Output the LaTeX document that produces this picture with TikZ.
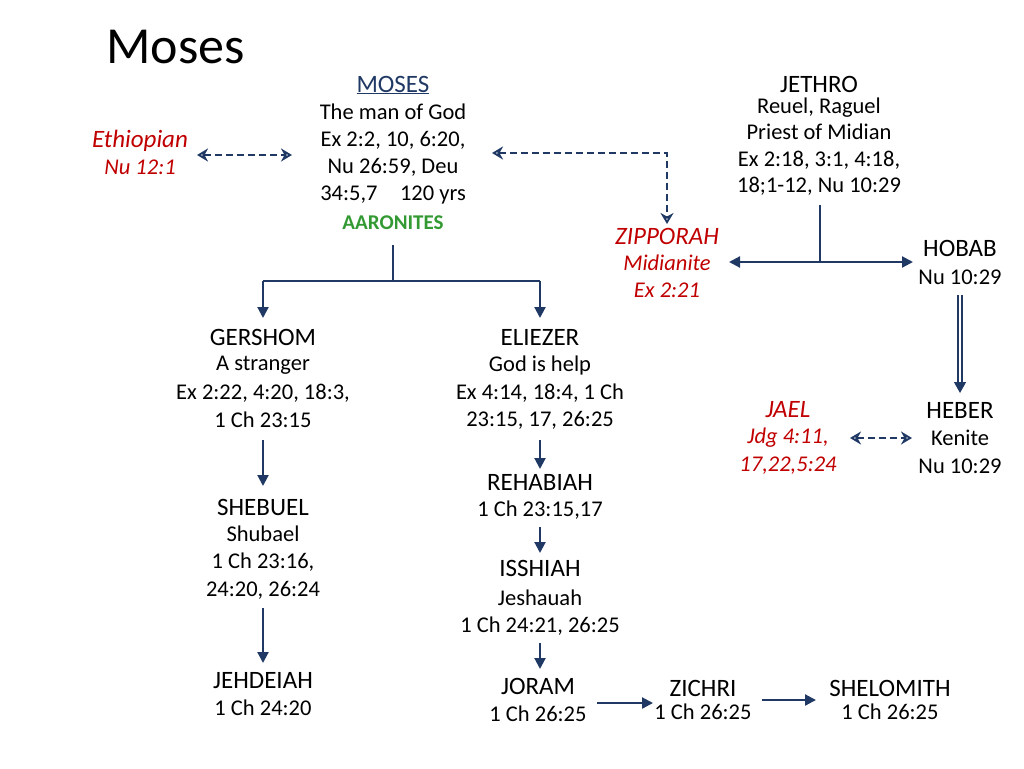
\documentclass[tikz,border=0pt]{standalone}
\usepackage{fontspec}
\setmainfont{Carlito}
\usetikzlibrary{arrows.meta}
\definecolor{navy}{HTML}{1F3864}
\definecolor{redc}{HTML}{C00000}
\definecolor{greenc}{HTML}{339933}
\begin{document}
\begin{tikzpicture}[x=1pt,y=-1pt,
  big/.style={font=\fontsize{25}{27}\selectfont,inner sep=0pt},
  sm/.style={font=\fontsize{22.5}{24}\selectfont,inner sep=0pt},
  rd/.style={text=redc},
  bigi/.style={big,rd,font=\itshape\fontsize{25}{27}\selectfont},
  smi/.style={sm,rd,font=\itshape\fontsize{22.5}{24}\selectfont},
  arr/.style={draw=navy,line width=2.2pt,-{Triangle[length=11pt,width=11pt]}},
  ln/.style={draw=navy,line width=2.2pt},
  dsh/.style={draw=navy,line width=2.4pt,dash pattern=on 7pt off 4pt,{Stealth[length=11pt,width=13pt,open,line width=2.4pt]}-{Stealth[length=11pt,width=13pt,open,line width=2.4pt]}}]
\useasboundingbox (0,0) rectangle (1024,768);
\node[anchor=west,inner sep=0pt,font=\fontsize{52}{54}\selectfont] (title) at (106,47) {Moses};
% Moses
\node[big,text=navy] (moses) at (393,85) {\underline{MOSES}};
\node[sm] (m1) at (393,112) {The man of God};
\node[sm] (m2) at (393,140) {Ex 2:2, 10, 6:20,};
\node[sm] (m3) at (393,167) {Nu 26:59, Deu};
\node[sm] (m4) at (393,195) {34:5,7\quad 120 yrs};
\node[sm,text=greenc,font=\bfseries\fontsize{21}{23}\selectfont] (m5) at (393,223) {AARONITES};
% Ethiopian
\node[bigi] (eth) at (140,141) {Ethiopian};
\node[smi] (eth1) at (140,167) {Nu 12:1};
\coordinate (e1) at (197,155); \coordinate (e2) at (292,155);
\draw[dsh] (e1) -- (e2);
% Jethro
\node[big] (jethro) at (819,84) {JETHRO};
\node[sm] (j1) at (819,108) {Reuel, Raguel};
\node[sm] (j2) at (819,132) {Priest of Midian};
\node[sm] (j3) at (819,160) {Ex 2:18, 3:1, 4:18,};
\node[sm] (j4) at (819,186) {18;1-12, Nu 10:29};
% Zipporah
\node[bigi] (zip) at (667,236) {ZIPPORAH};
\node[smi] (z1) at (667,263) {Midianite};
\node[smi] (z2) at (667,290) {Ex 2:21};
\coordinate (z0a) at (492,153); \coordinate (z0b) at (667,153); \coordinate (z0c) at (667,224);
\draw[dsh] (z0a) -- (z0b) -- (z0c);
% Jethro lines
\coordinate (jt) at (820,205); \coordinate (jb) at (820,262);
\coordinate (jl) at (729,262); \coordinate (jr) at (913,262);
\draw[ln] (jt) -- (jb);
\draw[ln,{Triangle[length=11pt,width=11pt]}-{Triangle[length=11pt,width=11pt]}] (jl) -- (jr);
% Hobab
\node[big] (hobab) at (960,248) {HOBAB};
\node[sm] (h1) at (960,277) {Nu 10:29};
\coordinate (hb1) at (960,295); \coordinate (hb2) at (960,393);
\draw[navy,line width=1.4pt,double=white,double distance=2.5pt,-{Triangle[length=11pt,width=12pt]}] (hb1) -- (hb2);
% Heber
\node[big] (heber) at (960,410) {HEBER};
\node[sm] (hb3) at (960,438) {Kenite};
\node[sm] (hb4) at (960,466) {Nu 10:29};
% Jael
\node[bigi] (jael) at (788,410) {JAEL};
\node[smi] (ja1) at (788,438) {Jdg 4:11,};
\node[smi] (ja2) at (788,466) {17,22,5:24};
\coordinate (jh1) at (850,438); \coordinate (jh2) at (912,438);
\draw[dsh] (jh1) -- (jh2);
% Moses children
\coordinate (mt) at (393,245); \coordinate (mb) at (393,281);
\coordinate (gl) at (263,281); \coordinate (er) at (540,281);
\coordinate (ga) at (263,318); \coordinate (ea) at (540,318);
\draw[ln] (mt) -- (mb);
\draw[ln] (gl) -- (er);
\draw[arr] (gl) -- (ga);
\draw[arr] (er) -- (ea);
% Gershom
\node[big] (ger) at (263,337) {GERSHOM};
\node[sm] (g1) at (263,365) {A stranger};
\node[sm] (g2) at (263,393) {Ex 2:22, 4:20, 18:3,};
\node[sm] (g3) at (263,420) {1 Ch 23:15};
% Eliezer
\node[big] (eli) at (540,337) {ELIEZER};
\node[sm] (el1) at (540,365) {God is help};
\node[sm] (el2) at (540,393) {Ex 4:14, 18:4, 1 Ch};
\node[sm] (el3) at (540,420) {23:15, 17, 26:25};
% Shebuel
\coordinate (a1) at (263,440); \coordinate (a2) at (263,486);
\draw[arr] (a1) -- (a2);
\node[big] (sheb) at (263,507) {SHEBUEL};
\node[sm] (s1) at (263,534) {Shubael};
\node[sm] (s2) at (263,562) {1 Ch 23:16,};
\node[sm] (s3) at (263,590) {24:20, 26:24};
\coordinate (a3) at (263,608); \coordinate (a4) at (263,663);
\draw[arr] (a3) -- (a4);
\node[big] (jehd) at (263,681) {JEHDEIAH};
\node[sm] (jd1) at (263,708) {1 Ch 24:20};
% Rehabiah
\coordinate (b1) at (540,440); \coordinate (b2) at (540,469);
\draw[arr] (b1) -- (b2);
\node[big] (reh) at (540,482) {REHABIAH};
\node[sm] (r1) at (540,510) {1 Ch 23:15,17};
\coordinate (b3) at (540,527); \coordinate (b4) at (540,553);
\draw[arr] (b3) -- (b4);
\node[big] (iss) at (540,568) {ISSHIAH};
\node[sm] (i1) at (540,598) {Jeshauah};
\node[sm] (i2) at (540,626) {1 Ch 24:21, 26:25};
\coordinate (b5) at (540,643); \coordinate (b6) at (540,669);
\draw[arr] (b5) -- (b6);
\node[big] (joram) at (538,686) {JORAM};
\node[sm] (jo1) at (538,714) {1 Ch 26:25};
\coordinate (c1) at (597,703); \coordinate (c2) at (653,703);
\draw[arr] (c1) -- (c2);
\node[big] (zich) at (703,688) {ZICHRI};
\node[sm] (zi1) at (703,712) {1 Ch 26:25};
\coordinate (c3) at (762,700); \coordinate (c4) at (816,700);
\draw[arr] (c3) -- (c4);
\node[big] (shel) at (890,688) {SHELOMITH};
\node[sm] (sh1) at (890,712) {1 Ch 26:25};
\end{tikzpicture}
\end{document}
